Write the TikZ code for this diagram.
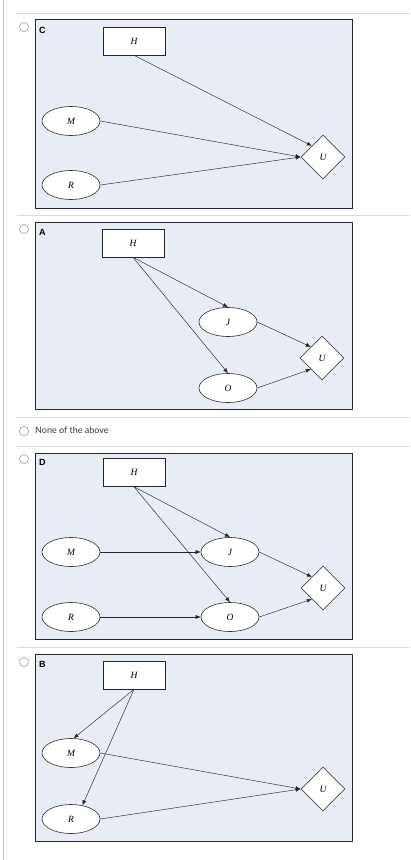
\documentclass[tikz,border=0pt]{standalone}
\usepackage{fontspec}
\setmainfont{Liberation Serif}
\newfontfamily\latofont{Lato}
\newfontfamily\labfont{Liberation Sans}
\usetikzlibrary{shapes.geometric,arrows.meta}
\definecolor{panelbg}{HTML}{E8ECF5}
\definecolor{panelborder}{HTML}{23262E}
\definecolor{sepgray}{HTML}{DADADA}
\definecolor{vgray}{HTML}{C4C4C4}
\definecolor{radiogray}{HTML}{8C8C8C}
\definecolor{txtdark}{HTML}{2D3B45}
\tikzset{
  panel/.style={draw=panelborder, line width=0.9pt, fill=panelbg},
  sepline/.style={draw=sepgray, line width=0.8pt},
  hbox/.style={rectangle, draw=black!85, fill=white, minimum width=62pt, minimum height=28pt, inner sep=0pt, line width=0.6pt, font=\fontsize{9.5}{10}\selectfont\itshape},
  ebox/.style={ellipse, draw=black!80, fill=white, minimum width=58pt, minimum height=29pt, inner sep=0pt, line width=0.6pt, font=\fontsize{9.5}{10}\selectfont\itshape},
  ubox/.style={diamond, draw=black!70, fill=white, minimum width=44pt, minimum height=44pt, inner sep=0pt, line width=0.6pt, font=\fontsize{9.5}{10}\selectfont\itshape},
  arr/.style={-{Latex[length=5pt,width=4pt]}, line width=0.45pt, draw=black!85},
  radio/.style={circle, draw=radiogray, fill=white, minimum size=9pt, inner sep=0pt, line width=0.5pt},
  plabel/.style={anchor=west, inner sep=0pt, font=\labfont\bfseries\fontsize{9}{10}\selectfont},
  opttext/.style={anchor=west, inner sep=0pt, text=txtdark, font=\latofont\fontsize{9}{10}\selectfont}
}
\begin{document}
\begin{tikzpicture}[x=1pt,y=-1pt]
\useasboundingbox (0,0) rectangle (410,860);
\fill[white] (0,0) rectangle (410,860);
% left rule and separators
\draw[draw=vgray, line width=0.9pt] (3,0) -- (3,860);
\draw[sepline] (17,13) -- (410,13);
\draw[sepline] (17,215) -- (410,215);
\draw[sepline] (17,417) -- (410,417);
\draw[sepline] (17,446) -- (410,446);
\draw[sepline] (17,647) -- (410,647);

% ---------------- Panel C ----------------
\node[radio] (rc) at (24,27) {};
\draw[panel] (35,19) rectangle (352,208);
\node[plabel] (lc) at (39,30.5) {C};
\node[hbox] (cH) at (134,41) {H};
\node[ebox] (cM) at (71,121) {M};
\node[ebox] (cR) at (71,185) {R};
\node[ubox] (cU) at (323,157) {U};
\draw[arr] (cH.south) -- (cU.north west);
\draw[arr] (cM.east) -- (cU.west);
\draw[arr] (cR.east) -- (cU.west);

% ---------------- Panel A ----------------
\node[radio] (ra) at (24,229) {};
\draw[panel] (35,222) rectangle (352,409);
\node[plabel] (la) at (39,232.5) {A};
\node[hbox] (aH) at (133,243) {H};
\node[ebox] (aJ) at (228,322) {J};
\node[ebox] (aO) at (228,388) {O};
\node[ubox] (aU) at (322,358) {U};
\draw[arr] (aH.south) -- (aJ.north);
\draw[arr] (aH.south) -- (aO.north);
\draw[arr] (aJ.east) -- (aU.north west);
\draw[arr] (aO.east) -- (aU.south west);

% ---------------- None of the above ----------------
\node[radio] (rn) at (24,431) {};
\node[opttext] (tn) at (35,430.5) {None of the above};

% ---------------- Panel D ----------------
\node[radio] (rd) at (24,459) {};
\draw[panel] (35,453) rectangle (352,639);
\node[plabel] (ld) at (39,462.5) {D};
\node[hbox] (dH) at (134,472.5) {H};
\node[ebox] (dM) at (71,552) {M};
\node[ebox] (dR) at (71,617) {R};
\node[ebox] (dJ) at (230,552) {J};
\node[ebox] (dO) at (230,617) {O};
\node[ubox] (dU) at (323,588) {U};
\draw[arr] (dH.south) -- (dJ.north);
\draw[arr] (dH.south) -- (dO.north);
\draw[arr] (dM.east) -- (dJ.west);
\draw[arr] (dR.east) -- (dO.west);
\draw[arr] (dJ.east) -- (dU.north west);
\draw[arr] (dO.east) -- (dU.south west);

% ---------------- Panel B ----------------
\node[radio] (rb) at (24,662) {};
\draw[panel] (35,654) rectangle (352,841);
\node[plabel] (lb) at (39,664.5) {B};
\node[hbox] (bH) at (134,675) {H};
\node[ebox] (bM) at (71,753) {M};
\node[ebox] (bR) at (71,819) {R};
\node[ubox] (bU) at (323,789) {U};
\draw[arr] (bH.south) -- (bM.80);
\draw[arr] (bH.south) -- (bR.50);
\draw[arr] (bM.east) -- (bU.west);
\draw[arr] (bR.east) -- (bU.west);
\end{tikzpicture}
\end{document}
